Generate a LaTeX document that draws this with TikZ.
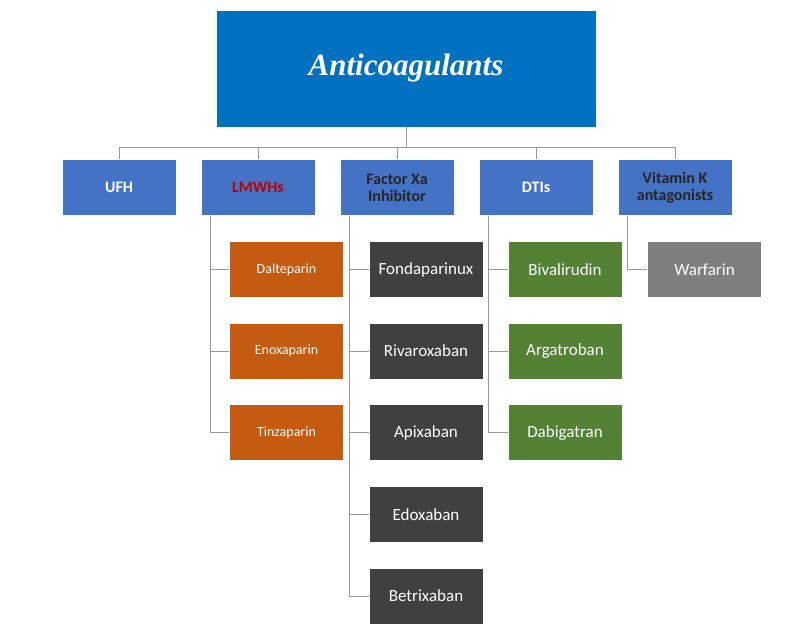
\documentclass[tikz,border=0pt]{standalone}
\usepackage{fontspec}
\setsansfont{Carlito}
\setmainfont{Liberation Serif}
\usetikzlibrary{positioning}
\definecolor{topblue}{HTML}{0070C0}
\definecolor{catblue}{HTML}{4472C4}
\definecolor{lmwhorange}{HTML}{C55A11}
\definecolor{xagray}{HTML}{404040}
\definecolor{dtigreen}{HTML}{548235}
\definecolor{vkgray}{HTML}{7F7F7F}
\definecolor{lmwhred}{HTML}{C00000}
\definecolor{darktext}{HTML}{262626}
\tikzset{
  box/.style   = {draw=white, line width=0.6pt, minimum width=114pt, minimum height=56pt,
                  inner sep=1pt, align=center, font=\sffamily},
  catbox/.style = {box, fill=catblue, font=\sffamily\bfseries\fontsize{16}{17}\selectfont, text=white},
  drug/.style  = {box, fill=#1, text=white, font=\sffamily\fontsize{17}{18}\selectfont},
  link/.style  = {draw=gray!80, line width=0.8pt}
}
\begin{document}
\begin{tikzpicture}[x=1pt,y=-1pt,node distance=25pt]
  \useasboundingbox (0,0) rectangle (800,628);
  \node[box, fill=topblue, minimum width=380pt, minimum height=117pt,
        font=\bfseries\itshape\fontsize{31}{33}\selectfont, text=white] (top) at (406,68.5) {Anticoagulants};
  % categories
  \node[catbox] (ufh)  at (119,187.5) {UFH};
  \node[catbox, text=lmwhred] (lmwh) at (258,187.5) {LMWHs};
  \node[catbox, text=darktext] (fxa)  at (397,187.5) {Factor Xa\\Inhibitor};
  \node[catbox] (dti)  at (536,187.5) {DTIs};
  \node[catbox, text=darktext] (vk)   at (675,187.5) {Vitamin K\\antagonists};
  \coordinate (bus) at (406,147);
  \draw[link] (top.south) -- (bus);
  \foreach \c in {ufh,lmwh,fxa,dti,vk}
    \draw[link] (bus) -| (\c.north);
  % LMWHs
  \node[drug=lmwhorange, font=\sffamily\fontsize{14}{15}\selectfont] (dal) at (286.5,269.5) {Dalteparin};
  \node[drug=lmwhorange, font=\sffamily\fontsize{14}{15}\selectfont, below=of dal] (eno) {Enoxaparin};
  \node[drug=lmwhorange, font=\sffamily\fontsize{14}{15}\selectfont, below=of eno] (tin) {Tinzaparin};
  % factor Xa
  \node[drug=xagray] (fon) at (426,269.5) {Fondaparinux};
  \node[drug=xagray, below=of fon] (riv) {Rivaroxaban};
  \node[drug=xagray, below=of riv] (api) {Apixaban};
  \node[drug=xagray, below=of api] (edo) {Edoxaban};
  \node[drug=xagray, below=of edo] (bet) {Betrixaban};
  % DTIs
  \node[drug=dtigreen] (biv) at (565,269.5) {Bivalirudin};
  \node[drug=dtigreen, below=of biv] (arg) {Argatroban};
  \node[drug=dtigreen, below=of arg] (dab) {Dabigatran};
  % vitamin K
  \node[drug=vkgray] (war) at (704.5,269.5) {Warfarin};
  % links
  \foreach \c in {dal,eno,tin}
    \draw[link] ([xshift=10pt]lmwh.south west) |- (\c.west);
  \foreach \c in {fon,riv,api,edo,bet}
    \draw[link] ([xshift=10pt]fxa.south west) |- (\c.west);
  \foreach \c in {biv,arg,dab}
    \draw[link] ([xshift=10pt]dti.south west) |- (\c.west);
  \draw[link] ([xshift=10pt]vk.south west) |- (war.west);
\end{tikzpicture}
\end{document}
